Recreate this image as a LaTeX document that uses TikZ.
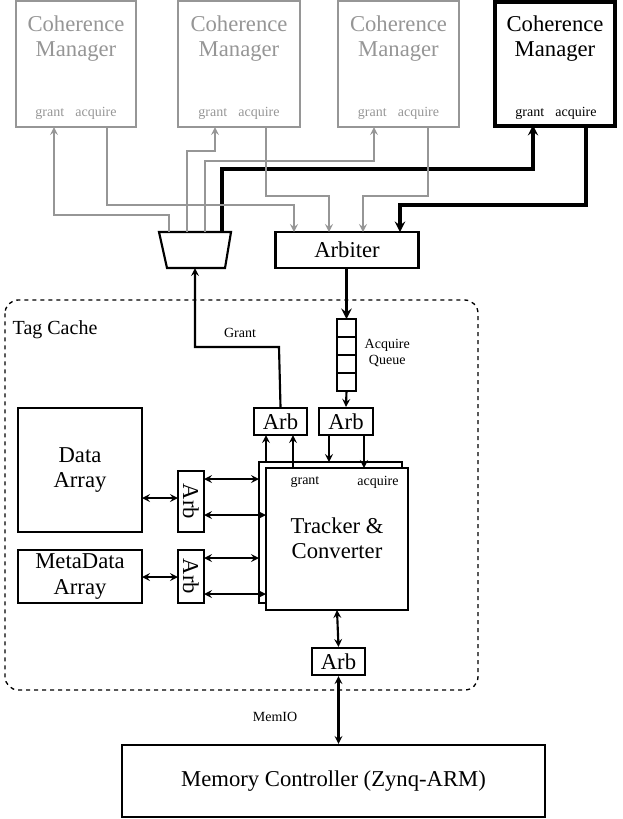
\documentclass[tikz,border=0pt]{standalone}
\usepackage{fontspec}
\setmainfont{Liberation Serif}
\usetikzlibrary{shapes.geometric, arrows, positioning}
\definecolor{cmgray}{RGB}{150,150,150}
\tikzstyle{cmbox} = [rectangle, draw, line width=1.6pt, minimum width=90pt, minimum height=94pt, inner sep=0]
\tikzstyle{big} = [font=\fontsize{17}{19}\selectfont, align=center]
\tikzstyle{small} = [font=\fontsize{10.5}{12}\selectfont, align=center]
\tikzstyle{blk} = [rectangle, draw, line width=1.6pt, inner sep=0]
\tikzstyle{line} = [draw, line width=1.6pt, ->, >=stealth]
\tikzstyle{dline} = [draw, line width=1.6pt, <->, >=stealth]
\tikzstyle{gline} = [draw, line width=1.6pt, ->, >=stealth, cmgray]
\tikzstyle{kline} = [draw, line width=2.4pt, ->, >=stealth]

\begin{document}
\begin{tikzpicture}[x=0.75pt, y=-0.75pt]
\useasboundingbox (0,0) rectangle (623,819);

% coherence managers
\foreach \n/\xa/\xb/\c in {1/16/136/cmgray, 2/178/300/cmgray, 3/338/459/cmgray} {
  \node [cmbox, draw=\c, text=\c, minimum width={(\xb-\xa)*0.75pt}, minimum height={126*0.75pt}] (cm\n) at ({(\xa+\xb)/2},64) {};
  \node [big, text=\c, below=8pt of cm\n.north] {Coherence\\Manager};
  \node [small, text=\c] at ({(\xa+\xb)/2},113) {grant\hspace{0.8em}acquire};
}
\node [cmbox, line width=2.4pt, minimum height={124*0.75pt}] (cm4) at (555,64) {};
\node [big, below=8pt of cm4.north] {Coherence\\Manager};
\node [small] at (556,113) {grant\hspace{0.8em}acquire};

% mux and arbiter
\draw [line width=1.6pt] (159,232) -- (231,232) -- (225,268) -- (167,268) -- cycle;
\coordinate (mux) at (195,268);
\node [blk, big, minimum width={143*0.75pt}, minimum height={36*0.75pt}] (arb) at (347,250) {Arbiter};

% grant paths
\path [gline] (169,232) -- (169,215) -- (54,215) -- (54,127);
\path [gline] (187,232) -- (187,151) -- (215,151) -- (215,127);
\path [gline] (205,232) -- (205,161) -- (374,161) -- (374,127);
\path [kline] (222,232) -- (222,169) -- (533,169) -- (533,125);
% acquire paths
\path [gline] (107,127) -- (107,205) -- (294,205) -- (294,232);
\path [gline] (266,127) -- (266,196) -- (329,196) -- (329,232);
\path [gline] (428,127) -- (428,196) -- (363,196) -- (363,232);
\path [kline] (586,125) -- (586,205) -- (400,205) -- (400,232);

% tag cache
\draw [dashed, line width=1pt, rounded corners=10pt] (5,300) rectangle (478,690);
\node [big, font=\fontsize{15}{17}\selectfont, anchor=west] at (8,330) {Tag Cache};

% queue
\foreach \i in {0,1,2,3}
  \draw [line width=1.6pt] (337,{319+18*\i}) rectangle (356,{337+18*\i});
\coordinate (qtop) at (346.5,319);
\coordinate (qbot) at (346.5,391);
\node [small, anchor=west] at (360,353) {Acquire\\Queue};
\path [kline] (arb.south -| qtop) -- (qtop);

% arbs
\node [blk, big, minimum width={53*0.75pt}, minimum height={27*0.75pt}] (arbg) at (280.5,421.5) {Arb};
\node [blk, big, minimum width={54*0.75pt}, minimum height={27*0.75pt}] (arba) at (346,421.5) {Arb};
\path [line] (qbot) -- (arba.north);
\path [line] (arbg.north) -- (279,347) -- (195,347) -- (mux);
\node [small] at (240,333) {Grant};

% tracker
\draw [line width=1.6pt, fill=white] (259,462) rectangle (402,603);
\draw [line width=1.6pt, fill=white] (266,468) rectangle (408,610);
\node [small] at (305,482) {grant};
\node [small] at (378,482) {acquire};
\node [big] at (337,538) {Tracker \&\\Converter};
\path [line] (266,462) -- (266,435);
\path [line] (293,468) -- (293,435);
\path [line] (329,435) -- (329,462);
\path [line] (364,435) -- (364,468);

% arrays
\node [blk, big, minimum width={124*0.75pt}, minimum height={124*0.75pt}] (data) at (80,470) {Data\\Array};
\node [blk, big, minimum width={124*0.75pt}, minimum height={53*0.75pt}] (meta) at (80,576.5) {MetaData\\Array};
\node [blk, big, rotate=-90, minimum width={61*0.75pt}, minimum height={26*0.75pt}] (arbd) at (191,501.5) {Arb};
\node [blk, big, rotate=-90, minimum width={53*0.75pt}, minimum height={26*0.75pt}] (arbm) at (191,576.5) {Arb};
\path [dline] (142,498) -- (178,498);
\path [dline] (142,577) -- (178,577);
\path [dline] (204,479) -- (259,479);
\path [dline] (204,515) -- (266,515);
\path [dline] (204,558) -- (259,558);
\path [dline] (204,594) -- (266,594);

% memory
\node [blk, big, minimum width={53*0.75pt}, minimum height={27*0.75pt}] (arbmem) at (338.5,661.5) {Arb};
\node [blk, big, minimum width={423*0.75pt}, minimum height={72*0.75pt}] (mem) at (333.5,781) {Memory Controller (Zynq-ARM)};
\path [dline] (337,610) -- (arbmem.north);
\path [dline] (arbmem.south) -- (mem.north -| arbmem.south);
\node [small] at (275,717) {MemIO};
\end{tikzpicture}
\end{document}
